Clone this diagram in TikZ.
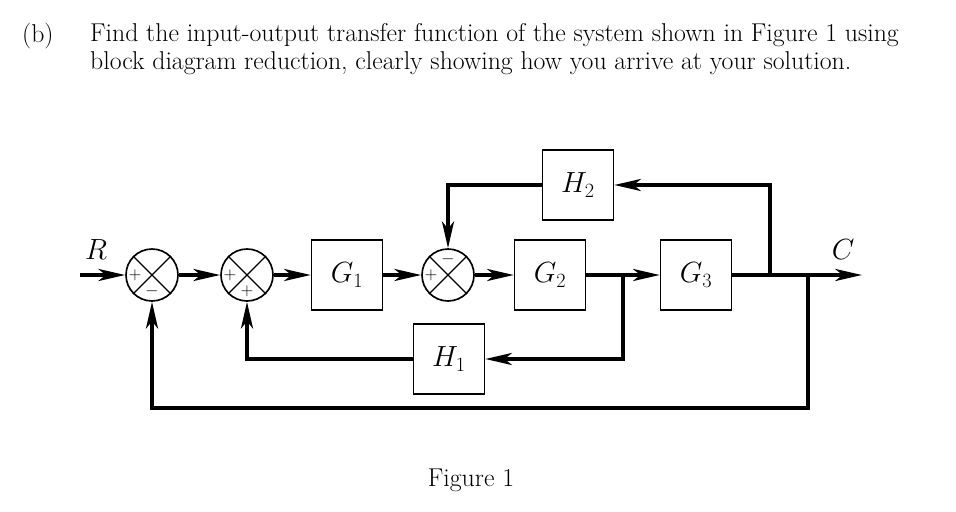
\documentclass[tikz,border=0pt]{standalone}
\usetikzlibrary{arrows.meta,calc}
\begin{document}
\begin{tikzpicture}[x=0.03cm,y=-0.03cm,
  blk/.style={draw,line width=1.2pt,minimum width=2.13cm,minimum height=2.1cm,font=\fontsize{24}{28}\selectfont},
  sum/.style={draw,circle,line width=1.4pt,minimum size=1.56cm,inner sep=0pt},
  sig/.style={line width=3.2pt,-{Stealth[length=8mm,width=3.6mm,inset=2.2mm]}},
  wire/.style={line width=3.2pt},
  sgn/.style={font=\fontsize{15}{17}\selectfont,inner sep=0pt},
  txt/.style={font=\fontsize{22}{26}\selectfont}]
\useasboundingbox (0,0) rectangle (956,512);
% title text
\node[anchor=west,txt] at (18,36) {(b)};
\node[anchor=west,txt,align=left] at (86,49)
  {Find the input-output transfer function of the system shown in Figure 1 using\\[-2pt]
   block diagram reduction, clearly showing how you arrive at your solution.};
% blocks and summing points
\node[sum] (s1) at (152,275) {};
\node[sum] (s2) at (247,275) {};
\node[sum] (s3) at (448,275) {};
\node[blk] (g1) at (347,275) {$G_1$};
\node[blk] (g2) at (550,275) {$G_2$};
\node[blk] (g3) at (696,275) {$G_3$};
\node[blk] (h2) at (578,185) {$H_2$};
\node[blk] (h1) at (449,359) {$H_1$};
\foreach \s in {s1,s2,s3}{
  \draw[line width=1.1pt] (\s.north west) -- (\s.south east);
  \draw[line width=1.1pt] (\s.north east) -- (\s.south west);}
\node[sgn] at ($(s1.center)+(-17,0)$) {$+$};
\node[sgn] at ($(s1.center)+(0,16)$) {$-$};
\node[sgn] at ($(s2.center)+(-17,0)$) {$+$};
\node[sgn] at ($(s2.center)+(0,16)$) {$+$};
\node[sgn] at ($(s3.center)+(-17,0)$) {$+$};
\node[sgn] at ($(s3.center)+(0,-16)$) {$-$};
% coordinates
\coordinate (in) at (80,275);
\coordinate (b1) at (623,275);
\coordinate (b2) at (770,275);
\coordinate (b3) at (808,275);
\coordinate (out) at (862,275);
\node[blk,draw=none,minimum size=0pt] (r) at (96,250) {$R$};
\node[blk,draw=none,minimum size=0pt] (c) at (843,250) {$C$};
% forward path
\draw[sig] (in) -- (s1);
\draw[sig] (s1) -- (s2);
\draw[sig] (s2) -- (g1);
\draw[sig] (g1) -- (s3);
\draw[sig] (s3) -- (g2);
\draw[wire] (g2) -- (b1);
\draw[sig] (b1) -- (g3);
\draw[wire] (g3) -- (b3);
\draw[sig] (b3) -- (out);
% feedback loops
\draw[sig] (b2) |- (h2);
\draw[sig] (h2) -| (s3);
\draw[sig] (b1) |- (h1);
\draw[sig] (h1) -| (s2);
\draw[sig] (b3) |- (300,408) -| (s1);
% caption
\node[txt] (cap) at (471,480) {Figure 1};
\end{tikzpicture}
\end{document}
